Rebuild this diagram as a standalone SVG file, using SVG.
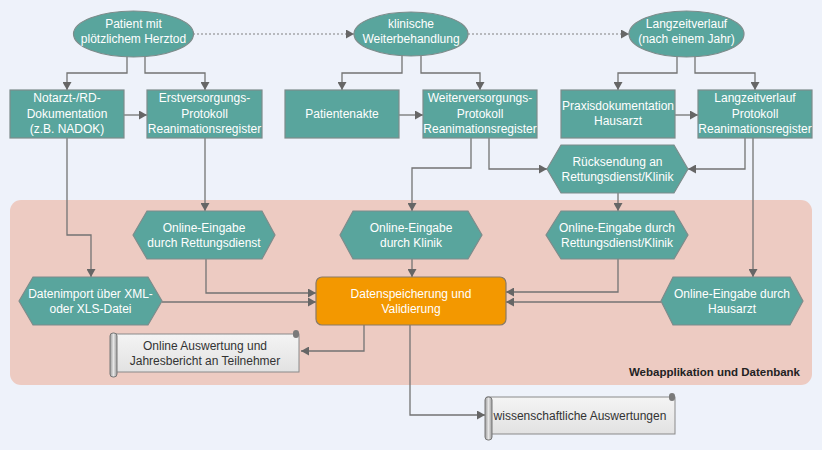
<svg xmlns="http://www.w3.org/2000/svg" width="822" height="450" viewBox="0 0 822 450">
<style>
.n{fill:#59a59d;stroke:#7d8c8b;stroke-width:1.2}
.t{font-family:"Liberation Sans",Arial,sans-serif;font-size:12px;fill:#ffffff;text-anchor:middle}
.d{font-family:"Liberation Sans",Arial,sans-serif;font-size:12px;fill:#333333;text-anchor:middle}
.c{fill:none;stroke:#737373;stroke-width:1.3;marker-end:url(#ah)}
.dot{fill:none;stroke:#808080;stroke-width:1.2;stroke-dasharray:2 2;marker-end:url(#ah)}
.sb{fill:url(#sg);stroke:#8a8a8a;stroke-width:1}
.sr{fill:url(#rg);stroke:#777;stroke-width:1}
</style>
<defs>
<marker id="ah" markerUnits="userSpaceOnUse" markerWidth="9" markerHeight="9" refX="8" refY="4.5" orient="auto"><path d="M0,0 L8,4.5 L0,9 z" fill="#666"/></marker>
<linearGradient id="sg" x1="0" y1="0" x2="0" y2="1"><stop offset="0" stop-color="#f4f4f4"/><stop offset="1" stop-color="#e2e2e2"/></linearGradient>
<linearGradient id="rg" x1="0" y1="0" x2="1" y2="0"><stop offset="0" stop-color="#9a9a9a"/><stop offset="0.5" stop-color="#e6e6e6"/><stop offset="1" stop-color="#9a9a9a"/></linearGradient>
</defs>
<rect width="822" height="450" fill="#eef2fa"/>
<rect x="10" y="200" width="802" height="185" rx="11" fill="#edcbc2"/>
<text x="800" y="376" style="font-family:'Liberation Sans',Arial,sans-serif;font-size:11.5px;font-weight:bold;fill:#222;text-anchor:end">Webapplikation und Datenbank</text>

<g id="connectors">
<path class="dot" d="M193,34 H354"/>
<path class="dot" d="M468,34 H629"/>
<path class="c" d="M127,56 V73 H67 V90"/>
<path class="c" d="M145,56 V73 H205 V90"/>
<path class="c" d="M124,115 H147"/>
<path class="c" d="M402,55 V73 H342 V90"/>
<path class="c" d="M421,55 V73 H480 V90"/>
<path class="c" d="M399,115 H423"/>
<path class="c" d="M677,56 V73 H618 V90"/>
<path class="c" d="M695,56 V73 H755 V90"/>
<path class="c" d="M675,115 H698"/>
<path class="c" d="M67,138 V235 H91 V277"/>
<path class="c" d="M205,138 V211"/>
<path class="c" d="M471,138 V168 H412 V211"/>
<path class="c" d="M489,138 V169 H547"/>
<path class="c" d="M745,138 V169 H688"/>
<path class="c" d="M753,138 V277"/>
<path class="c" d="M618,193 V211"/>
<path class="c" d="M206,259 V293 H316"/>
<path class="c" d="M162,302 H316"/>
<path class="c" d="M412,259 V277"/>
<path class="c" d="M618,259 V292 H506"/>
<path class="c" d="M661,302 H506"/>
<path class="c" d="M364,325 V351 H301"/>
<path class="c" d="M410,325 V415 H485"/>
</g>

<g id="e1"><ellipse class="n" cx="133.5" cy="34" rx="60" ry="23"/><text class="t" x="133.5" y="28">Patient mit</text><text class="t" x="133.5" y="43">plötzlichem Herztod</text></g>
<g id="e2"><ellipse class="n" cx="411" cy="34" rx="57" ry="22"/><text class="t" x="411" y="28">klinische</text><text class="t" x="411" y="43">Weiterbehandlung</text></g>
<g id="e3"><ellipse class="n" cx="686.5" cy="34" rx="57.5" ry="23"/><text class="t" x="686.5" y="28">Langzeitverlauf</text><text class="t" x="686.5" y="43">(nach einem Jahr)</text></g>

<g id="b1"><rect class="n" x="10" y="90" width="114" height="48"/><text class="t" x="67" y="102">Notarzt-/RD-</text><text class="t" x="67" y="118">Dokumentation</text><text class="t" x="67" y="133">(z.B. NADOK)</text></g>
<g id="b2"><rect class="n" x="147" y="90" width="115" height="48"/><text class="t" x="204.5" y="102">Erstversorgungs-</text><text class="t" x="204.5" y="118">Protokoll</text><text class="t" x="204.5" y="133">Reanimationsregister</text></g>
<g id="b3"><rect class="n" x="285" y="90" width="114" height="48"/><text class="t" x="342" y="118">Patientenakte</text></g>
<g id="b4"><rect class="n" x="423" y="90" width="114" height="48"/><text class="t" x="480" y="102">Weiterversorgungs-</text><text class="t" x="480" y="118">Protokoll</text><text class="t" x="480" y="133">Reanimationsregister</text></g>
<g id="b5"><rect class="n" x="561" y="90" width="114" height="48"/><text class="t" x="618" y="110">Praxisdokumentation</text><text class="t" x="618" y="125">Hausarzt</text></g>
<g id="b6"><rect class="n" x="698" y="90" width="114" height="48"/><text class="t" x="755" y="102">Langzeitverlauf</text><text class="t" x="755" y="118">Protokoll</text><text class="t" x="755" y="133">Reanimationsregister</text></g>

<g id="h1"><polygon class="n" points="547,169 561,145 674,145 688,169 674,193 561,193"/><text class="t" x="617.5" y="166">Rücksendung an</text><text class="t" x="617.5" y="181">Rettungsdienst/Klinik</text></g>
<g id="h2"><polygon class="n" points="133,235 147,211 262,211 275,235 262,259 147,259"/><text class="t" x="204" y="232">Online-Eingabe</text><text class="t" x="204" y="247">durch Rettungsdienst</text></g>
<g id="h3"><polygon class="n" points="340,235 353,211 468,211 482,235 468,259 353,259"/><text class="t" x="411" y="232">Online-Eingabe</text><text class="t" x="411" y="247">durch Klinik</text></g>
<g id="h4"><polygon class="n" points="546,235 561,211 674,211 688,235 674,259 561,259"/><text class="t" x="617" y="232">Online-Eingabe durch</text><text class="t" x="617" y="247">Rettungsdienst/Klinik</text></g>
<g id="h5"><polygon class="n" points="19,301 33,277 148,277 162,301 148,325 33,325"/><text class="t" x="90.5" y="298">Datenimport über XML-</text><text class="t" x="90.5" y="313">oder XLS-Datei</text></g>
<g id="h6"><polygon class="n" points="661,301 673,277 790,277 803,301 790,325 673,325"/><text class="t" x="732" y="298">Online-Eingabe durch</text><text class="t" x="732" y="313">Hausarzt</text></g>

<g id="ds"><rect x="316" y="277" width="190" height="48" rx="6" fill="#f39800" stroke="#8a7a66" stroke-width="1.2"/><text class="t" x="411" y="298">Datenspeicherung und</text><text class="t" x="411" y="313">Validierung</text></g>

<g id="s1"><rect class="sb" x="112" y="334" width="187" height="38"/><rect x="293" y="330" width="6" height="8" rx="3" fill="#7a7a7a"/><rect class="sr" x="110" y="333" width="7" height="44" rx="3"/><text class="d" x="205" y="350">Online Auswertung und</text><text class="d" x="205" y="365">Jahresbericht an Teilnehmer</text></g>
<g id="s2"><rect class="sb" x="487" y="397" width="188" height="37"/><rect x="669" y="393" width="6" height="8" rx="3" fill="#7a7a7a"/><rect class="sr" x="485" y="397" width="7" height="43" rx="3"/><text class="d" x="580" y="420">wissenschaftliche Auswertungen</text></g>
</svg>
